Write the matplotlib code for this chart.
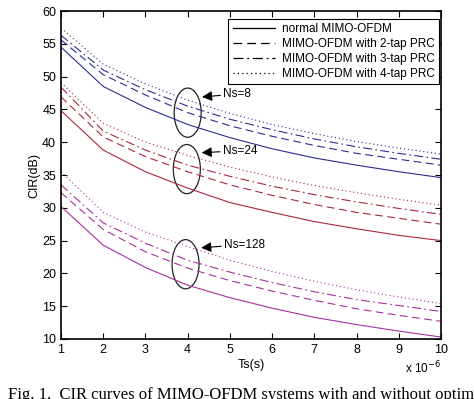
import matplotlib
matplotlib.use("Agg")
import matplotlib.pyplot as plt
from matplotlib.patches import Ellipse

# x axis: Ts in units of 1e-6 s
ts = [1, 2, 3, 4, 5, 6, 7, 8, 9, 10]

# Ns = 8 (blue)
ns8_normal = [54.5, 48.5, 45.3, 42.7, 40.7, 39.0, 37.6, 36.5, 35.5, 34.6]
ns8_tap2 = [55.6, 50.3, 47.2, 44.5, 42.5, 40.9, 39.5, 38.3, 37.4, 36.5]
ns8_tap3 = [56.3, 51.0, 48.0, 45.5, 43.5, 41.9, 40.5, 39.3, 38.3, 37.4]
ns8_tap4 = [57.4, 51.9, 48.9, 46.4, 44.4, 42.7, 41.3, 40.1, 39.1, 38.2]

# Ns = 24 (red)
ns24_normal = [44.8, 38.8, 35.5, 33.0, 30.8, 29.3, 27.9, 26.8, 25.8, 25.0]
ns24_tap2 = [46.9, 40.8, 37.8, 35.5, 33.5, 31.9, 30.5, 29.3, 28.4, 27.5]
ns24_tap3 = [48.4, 41.7, 38.8, 36.5, 34.8, 33.3, 32.0, 30.9, 29.9, 29.0]
ns24_tap4 = [49.1, 42.9, 40.0, 38.0, 36.2, 34.7, 33.4, 32.3, 31.3, 30.4]

# Ns = 128 (magenta)
ns128_normal = [30.2, 24.3, 20.9, 18.2, 16.3, 14.7, 13.3, 12.2, 11.2, 10.3]
ns128_tap2 = [32.3, 26.7, 23.3, 20.8, 18.9, 17.3, 15.9, 14.6, 13.6, 12.7]
ns128_tap3 = [33.5, 27.7, 24.6, 22.0, 20.2, 18.6, 17.2, 16.0, 15.1, 14.2]
ns128_tap4 = [35.5, 29.3, 26.3, 24.1, 22.0, 20.3, 18.8, 17.5, 16.4, 15.4]

legend_labels = ["normal MIMO-OFDM", "MIMO-OFDM with 2-tap PRC",
                 "MIMO-OFDM with 3-tap PRC", "MIMO-OFDM with 4-tap PRC"]
group_labels = ["Ns=8", "Ns=24", "Ns=128"]

styles = ["-", (0, (7, 4)), (0, (8, 3, 1.5, 3)), (0, (1, 2.5))]
colors = ["#2c2c92", "#a82838", "#a8309e"]

plt.rcParams["font.family"] = ["Liberation Sans", "DejaVu Sans"]

fig = plt.figure(figsize=(4.74, 3.99), dpi=100)
ax = fig.add_axes([0.1287, 0.1504, 0.8017, 0.822])

groups = [
    [ns8_normal, ns8_tap2, ns8_tap3, ns8_tap4],
    [ns24_normal, ns24_tap2, ns24_tap3, ns24_tap4],
    [ns128_normal, ns128_tap2, ns128_tap3, ns128_tap4],
]
for col, grp in zip(colors, groups):
    for ls, vals in zip(styles, grp):
        ax.plot(ts, vals, color=col, linestyle=ls, linewidth=0.8)

# legend with black samples
handles = [plt.Line2D([], [], color="black", linestyle=ls, linewidth=0.9) for ls in styles]
leg = ax.legend(handles, legend_labels, loc="upper right", bbox_to_anchor=(0.995, 0.9756),
                borderaxespad=0, fontsize=8.5, handlelength=3.6, labelspacing=0.25,
                fancybox=False, framealpha=1, edgecolor="black", borderpad=0.35,
                handletextpad=0.6)
leg.get_frame().set_linewidth(0.8)

# ellipses and annotations
ell_centers = [(4.0, 44.5), (3.98, 35.9), (3.95, 21.4)]
arrow_tips = [(4.34, 46.9), (4.33, 38.4), (4.32, 23.9)]
text_pos = [(4.84, 47.35), (4.83, 38.7), (4.86, 24.4)]
for c, tip, tp, lab in zip(ell_centers, arrow_tips, text_pos, group_labels):
    ax.add_patch(Ellipse(c, 0.64, 7.5, fill=False, edgecolor="#222222", linewidth=0.9))
    ax.annotate(lab, xy=tip, xytext=tp, fontsize=8.5, ha="left", va="center",
                arrowprops=dict(arrowstyle="-|>", color="black", lw=0.8,
                                mutation_scale=15, shrinkA=0, shrinkB=0))

ax.set_xlim(1, 10)
ax.set_ylim(10, 60)
ax.set_xticks(ts)
ax.set_yticks(range(10, 61, 5))
ax.tick_params(direction="in", top=True, right=True, length=4, labelsize=9, width=0.8)
for sp in ax.spines.values():
    sp.set_linewidth(1.2)

ax.set_xlabel("Ts(s)", fontsize=9, labelpad=2)
ax.set_ylabel("CIR(dB)", fontsize=9, labelpad=1)
ax.text(1.0, -0.062, r"x 10$^{-6}$", transform=ax.transAxes, ha="right", va="top", fontsize=8.5)

fig.text(8 / 474, 1 - 387 / 399,
         "Fig. 1.  CIR curves of MIMO-OFDM systems with and without optimal PRC",
         fontsize=12, family=["Liberation Serif", "DejaVu Serif"], ha="left", va="top")

fig.savefig("out.png", dpi=100)
